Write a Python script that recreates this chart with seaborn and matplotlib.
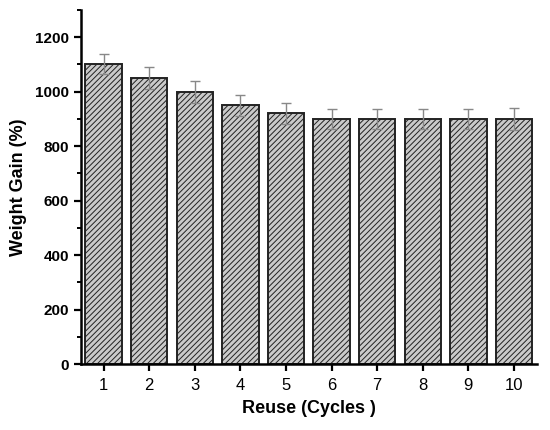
import numpy as np
import pandas as pd
import matplotlib
matplotlib.use("Agg")
import matplotlib.pyplot as plt
from matplotlib.ticker import MultipleLocator
import seaborn as sns

cycles = ['1', '2', '3', '4', '5', '6', '7', '8', '9', '10']
weight_gain = [1100, 1050, 1000, 950, 920, 900, 900, 900, 900, 900]
errors = [37, 40, 40, 38, 40, 38, 38, 38, 38, 40]

data = pd.DataFrame({'cycle': cycles, 'gain': weight_gain, 'err': errors})

sns.set_style("ticks", {'text.color': 'black', 'axes.labelcolor': 'black',
                        'xtick.color': 'black', 'ytick.color': 'black'})
plt.rcParams['font.family'] = ['Liberation Sans', 'DejaVu Sans']
plt.rcParams['hatch.linewidth'] = 0.7

fig = plt.figure(figsize=(5.5, 4.3), dpi=100)
ax = fig.add_axes([0.147, 0.153, 0.829, 0.824])

sns.barplot(data=data, x='cycle', y='gain', color='#cacaca', width=0.8,
            edgecolor='#222222', linewidth=1.4, hatch='//////', saturation=1, ax=ax)
for p in ax.patches:
    p.set_facecolor('#cacaca')
    p.set_edgecolor('#222222')

ax.errorbar(np.arange(len(cycles)), data['gain'], yerr=data['err'], fmt='none',
            ecolor='#888888', elinewidth=1, capsize=3.5, capthick=1)

ax.set_xlim(-0.5, len(cycles) - 0.5)
ax.set_ylim(0, 1300)
ax.yaxis.set_major_locator(MultipleLocator(200))
ax.yaxis.set_minor_locator(MultipleLocator(100))
sns.despine(ax=ax)
for s in ['left', 'bottom']:
    ax.spines[s].set_linewidth(1.8)
    ax.spines[s].set_color('black')
ax.tick_params(axis='both', which='major', width=1.6, length=5, color='black')
ax.tick_params(axis='y', which='minor', width=1.4, length=3, color='black')
ax.tick_params(axis='x', labelsize=12, pad=5)
ax.tick_params(axis='y', labelsize=11)
for lab in ax.get_yticklabels():
    lab.set_fontweight('bold')

ax.set_xlabel('Reuse (Cycles )', fontsize=13, fontweight='bold', labelpad=5)
ax.set_ylabel('Weight Gain (%)', fontsize=13, fontweight='bold', labelpad=6)

fig.savefig('out.png', dpi=100)
